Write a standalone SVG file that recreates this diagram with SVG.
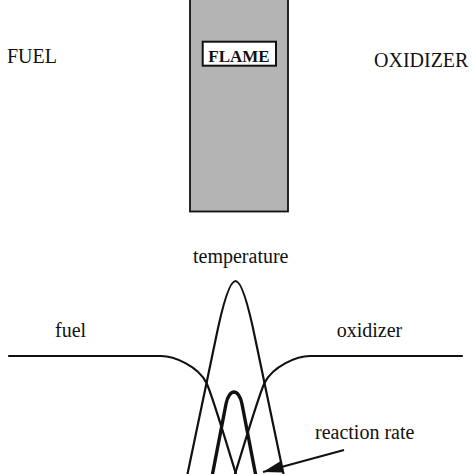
<svg xmlns="http://www.w3.org/2000/svg" width="474" height="474" viewBox="0 0 474 474">
<style>
.lbl{font-family:"Liberation Serif","Times New Roman",serif;font-size:20px;fill:#111}
.curve{fill:none;stroke:#111;stroke-width:2.2;stroke-linejoin:round;stroke-linecap:round}
.thick{stroke-width:3.4}
</style>
<defs>
<marker id="ah" viewBox="0 0 20 12" refX="20" refY="6" markerWidth="20" markerHeight="12" markerUnits="userSpaceOnUse" orient="auto">
<path d="M0,0 L20,6 L0,12 Z" fill="#111"/>
</marker>
</defs>
<rect width="474" height="474" fill="#fff"/>
<g id="flame-zone">
<rect x="190" y="-5" width="98" height="216.5" fill="#b4b4b4" stroke="#111" stroke-width="1.8"/>
</g>
<g id="flame-label">
<rect x="202.7" y="41.7" width="73.3" height="24" fill="#fff" stroke="#111" stroke-width="2"/>
<text x="239" y="61.5" text-anchor="middle" style="font-family:'Liberation Serif','Times New Roman',serif;font-size:17px;font-weight:bold;fill:#111">FLAME</text>
</g>
<g id="fuel-label"><text class="lbl" x="7" y="62.7">FUEL</text></g>
<g id="oxidizer-label"><text class="lbl" x="374" y="66.6">OXIDIZER</text></g>
<g id="temperature"><path class="curve" d="M187.5,474 L215.5,340 C222,308 229,281 235.5,281 C242,281 249,308 255.5,340 L283.5,474"/>
<text class="lbl" x="193" y="263">temperature</text></g>
<g id="fuel"><path class="curve" d="M9,356 L161,356 C174,356 198,366 206.5,383 C213,397 229,452 236,474"/>
<text class="lbl" x="55" y="336.7">fuel</text></g>
<g id="oxidizer"><path class="curve" d="M462,356 L310,356 C297,356 273,366 264.5,383 C258,397 242,452 235,474"/>
<text class="lbl" x="336.7" y="337">oxidizer</text></g>
<g id="reaction-rate"><path class="curve thick" d="M212.5,474 L226,404 C227.5,396 231,392 234,392 C237,392 240.5,396 242,404 L255.5,474"/>
<text class="lbl" x="315" y="439">reaction rate</text></g>
<g id="connectors">
<line x1="344" y1="450" x2="263" y2="472" stroke="#111" stroke-width="2" marker-end="url(#ah)"/>
</g>
</svg>
